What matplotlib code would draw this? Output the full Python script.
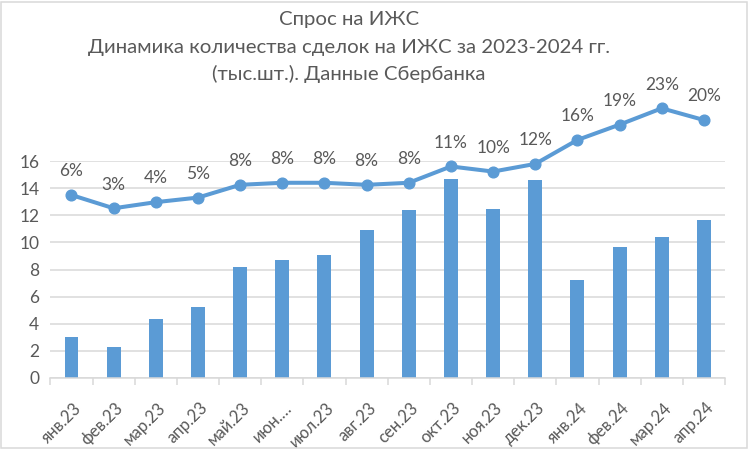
import matplotlib
matplotlib.use('Agg')
import matplotlib.pyplot as plt
from matplotlib.patches import Rectangle
from matplotlib.ticker import FixedLocator
from matplotlib.transforms import ScaledTranslation

# ---- data ----
months = ['янв.23', 'фев.23', 'мар.23', 'апр.23', 'май.23', 'июн.…', 'июл.23', 'авг.23',
          'сен.23', 'окт.23', 'ноя.23', 'дек.23', 'янв.24', 'фев.24', 'мар.24', 'апр.24']
deals = [3.0, 2.27, 4.35, 5.23, 8.2, 8.72, 9.09, 10.94,
         12.42, 14.64, 12.49, 14.57, 7.23, 9.68, 10.42, 11.68]
growth_pct = [5.6, 3.0, 4.2, 5.1, 7.6, 8.0, 8.0, 7.6,
              8.0, 11.2, 10.2, 11.7, 16.4, 19.4, 22.6, 20.3]
growth_labels = ['6%', '3%', '4%', '5%', '8%', '8%', '8%', '8%',
                 '8%', '11%', '10%', '12%', '16%', '19%', '23%', '20%']
yticks = [0, 2, 4, 6, 8, 10, 12, 14, 16]
title_lines = ['Спрос на ИЖС',
               'Динамика количества сделок на ИЖС за 2023-2024 гг.',
               '(тыс.шт.). Данные Сбербанка']

FONT = ['Lato', 'Noto Sans', 'DejaVu Sans']
plt.rcParams['font.family'] = FONT
BLUE = '#5B9BD5'
GRAY = '#595959'
GRID = '#D9D9D9'

W, H = 752, 451
fig = plt.figure(figsize=(W / 100, H / 100), dpi=100)
fig.patch.set_facecolor('white')

left, right, top, bottom = 50.4, 725, 161, 378
ax = fig.add_axes([left / W, 1 - bottom / H, (right - left) / W, (bottom - top) / H])
x = list(range(len(months)))

ax.bar(x, deals, width=0.33, color=BLUE, zorder=2)
ax.set_xlim(-0.5, len(months) - 0.5)
ax.set_ylim(0, 16)
ax.set_yticks(yticks)
ax.set_yticklabels([str(v) for v in yticks], fontsize=12.5, color=GRAY)
ax.tick_params(axis='y', length=0, pad=8)
ax.grid(axis='y', color=GRID, linewidth=1.1, zorder=0)
for s in ['top', 'right', 'left']:
    ax.spines[s].set_visible(False)
ax.spines['bottom'].set_color(GRID)
ax.spines['bottom'].set_linewidth(1.1)

ax.set_xticks(x)
ax.set_xticklabels(months, rotation=45, ha='right', va='center',
                   rotation_mode='anchor', fontsize=12, color=GRAY)
ax.tick_params(axis='x', which='major', length=0, pad=14)
shift = ScaledTranslation(7 / 100, -8 / 100, fig.dpi_scale_trans)
for lbl in ax.get_xticklabels():
    lbl.set_transform(lbl.get_transform() + shift)
ax.xaxis.set_minor_locator(FixedLocator([i - 0.5 for i in range(len(months) + 1)]))
ax.tick_params(axis='x', which='minor', length=5, color=GRID, width=1.1)

# secondary (hidden) axis for growth line
ax2 = ax.twinx()
ax2.set_ylim(-30.27, 12.27)
ax2.axis('off')
ax2.plot(x, growth_pct, color=BLUE, linewidth=2.9, marker='o', markersize=7.7,
         clip_on=False, zorder=3)
for xi, yi, lab in zip(x, growth_pct, growth_labels):
    ax2.annotate(lab, (xi, yi), xytext=(0, 13.5), textcoords='offset points',
                 ha='center', va='baseline', fontsize=12.5, color=GRAY,
                 annotation_clip=False)

# title
ys = [20, 47, 74]
for t, yy in zip(title_lines, ys):
    fig.text(349 / W, 1 - yy / H, t, ha='center', va='center', fontsize=14.7, color=GRAY)

# chart border
fig.patches.append(Rectangle((1.5 / W, (H - 447.5) / H), (746.5 - 1.5) / W, (447.5 - 1.5) / H,
                             transform=fig.transFigure, fill=False,
                             edgecolor=GRID, linewidth=1.1))

fig.savefig('out.png', dpi=100, facecolor='white')
